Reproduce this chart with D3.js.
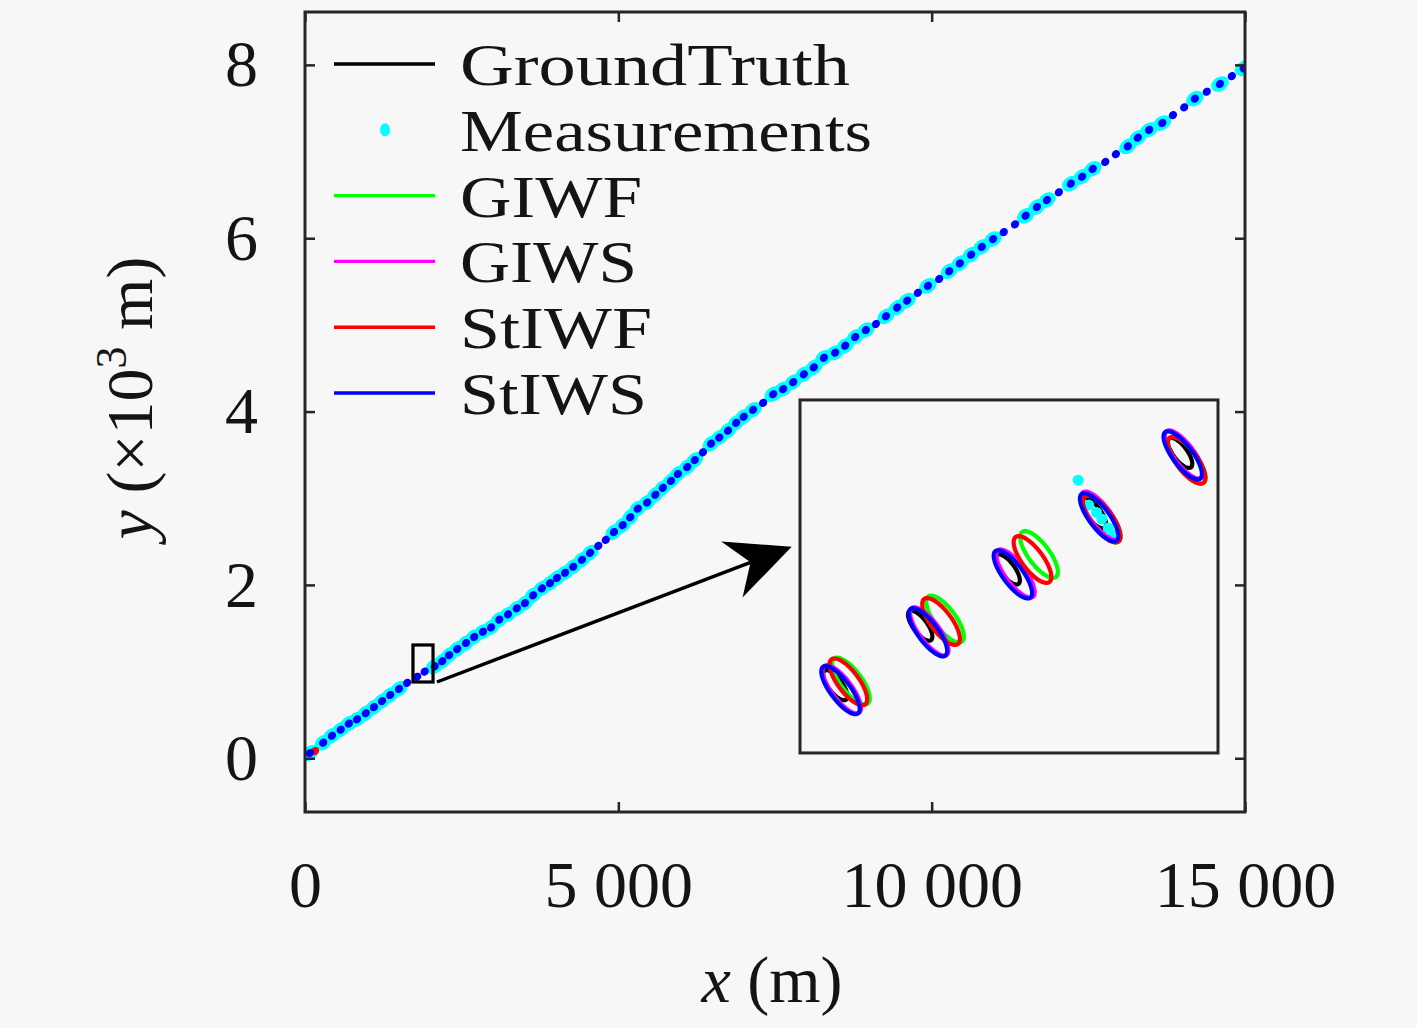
<!DOCTYPE html>
<html><head><meta charset="utf-8">
<script src="https://cdn.jsdelivr.net/npm/d3@7"></script>
<style>
html,body{margin:0;padding:0;background:#f7f7f7;}
svg{display:block;}
text{font-family:"Liberation Serif","Times New Roman",serif;}
</style></head><body>
<svg id="chart" width="1417" height="1028"></svg>
<script>
// ---------- data (metres) ----------
const trackX = [80,290,430,570,700,830,970,1100,1230,1360,
  1500,1630,1790,1910,2070,2190,2300,2430,2570,2700,
  2840,2970,3100,3240,3380,3510,3640,3780,3910,4020,
  4150,4280,4420,4550,4680,4800,4930,5070,5190,5310,
  5460,5590,5710,5840,5950,6100,6220,6350,6480,6610,
  6750,6880,7000,7150,7310,7470,7630,7790,7960,8120,
  8280,8460,8620,8780,8950,9110,9270,9450,9610,9780,
  9940,10120,10280,10450,10630,10800,10980,11150,11330,11500,
  11680,11840,12030,12220,12400,12570,12770,12940,13130,13290,
  13470,13680,13850,14030,14200,14390,14600,14790,14980];
const trackY = [60,180,260,330,400,450,520,590,660,730,
  800,870,940,1000,1060,1120,1190,1260,1330,1400,
  1460,1510,1600,1660,1730,1790,1880,1960,2020,2080,
  2140,2210,2290,2370,2450,2520,2610,2690,2780,2880,
  2950,3040,3120,3200,3280,3360,3440,3530,3630,3700,
  3780,3870,3940,4020,4100,4200,4260,4340,4430,4510,
  4620,4680,4760,4860,4940,5010,5100,5200,5280,5370,
  5450,5530,5620,5710,5810,5900,5990,6070,6160,6260,
  6360,6440,6530,6630,6710,6800,6880,6970,7060,7160,
  7250,7330,7420,7510,7610,7690,7780,7870,7960];
// 1 = measurement cloud visible at that scan
const measFlag = [1,1,1,1,1,1,1,1,1,1,
  1,0,0,0,1,1,1,1,1,1,
  1,1,1,1,1,1,1,1,1,1,
  1,1,1,1,0,0,1,1,1,1,
  1,1,1,1,1,1,1,0,1,1,
  1,1,1,1,0,1,1,1,1,1,
  1,1,1,1,1,0,1,1,1,0,
  1,0,1,1,1,1,1,0,0,1,
  1,1,0,1,1,1,0,0,1,1,
  1,1,0,0,1,0,1,0,1];
// StIWF initial estimate (visible at start)
const stiwfInitX = [160];
const stiwfInitY = [84];
// extent matrix in main view [xx, xy, yy] (m^2)
const mainExtent = [1232, 200, 644];

// ---------- inset (zoomed window) ----------
const zoomRectX = [1723, 2043];
const zoomRectY = [880, 1307];
const insetBoxX = [7899, 14569];
const insetBoxY = [61, 4134];
const arrowFrom = [2106, 880];
const arrowTo = [7766, 2441];
const insetGTX = [1750, 1815, 1882, 1948, 2014];
const insetGTY = [962, 1034, 1102, 1170, 1243];
const insetGIWFX = [1762, 1834, 1906, 1954, 2019];
const insetGIWFY = [967, 1042, 1120, 1163, 1234];
const insetGIWSX = [1755, 1822, 1888, 1953, 2017];
const insetGIWSY = [957, 1027, 1097, 1167, 1241];
const insetStIWFX = [1760, 1831, 1901, 1954, 2019];
const insetStIWFY = [966, 1039, 1114, 1163, 1234];
const insetStIWSX = [1754, 1821, 1886, 1952, 2016];
const insetStIWSY = [956, 1026, 1096, 1165, 1240];
const insetMeasX = [1936, 1944, 1950, 1954, 1959, 1963];
const insetMeasY = [1210, 1180, 1171, 1163, 1152, 1143];
const extGT = [87, -123, 333];
const extGIWF = [208, -302, 801];
const extGIWS = [216, -332, 850];
const extStIWF = [208, -302, 801];
const extStIWS = [216, -332, 850];

// ---------- ticks & legend ----------
const xTicks = [0, 5000, 10000, 15000];
const xTickLabels = ["0", "5 000", "10 000", "15 000"];
const yTicks = [0, 2000, 4000, 6000, 8000];
const yTickLabels = ["0", "2", "4", "6", "8"];
const legendLabels = ["GroundTruth", "Measurements", "GIWF", "GIWS", "StIWF", "StIWS"];
const legendColors = ["#000000", "#00ffff", "#00ff00", "#ff00ff", "#ff0000", "#0000ff"];
const legendKinds = ["line", "dot", "line", "line", "line", "line"];
const legendWidths = [390, 412, 182, 177, 192, 187];

// ---------- drawing ----------
const W = 1417, H = 1028;
const svg = d3.select("#chart");
svg.append("rect").attr("width", W).attr("height", H).attr("fill", "#f7f7f7");

const x = d3.scaleLinear().domain([0, 15000]).range([305, 1245]);
const y = d3.scaleLinear().domain([-620, 8610]).range([812, 12]);
const axisColor = "#262626", textColor = "#141414";

svg.append("defs").append("clipPath").attr("id", "plotclip")
  .append("rect").attr("x", x(0)).attr("y", y(8610)).attr("width", x(15000) - x(0)).attr("height", y(-620) - y(8610));

function ellipsePath(cx, cy, ext, sx, sy) {
  const a = ext[0], b = ext[1], c = ext[2];
  const tr = (a + c) / 2, df = Math.sqrt(((a - c) / 2) ** 2 + b * b);
  const l1 = tr + df, l2 = tr - df;
  let ex, ey;
  if (Math.abs(b) > 1e-9) { ex = b; ey = l1 - a; } else if (a >= c) { ex = 1; ey = 0; } else { ex = 0; ey = 1; }
  const n = Math.hypot(ex, ey); ex /= n; ey /= n;
  const r1 = Math.sqrt(l1), r2 = Math.sqrt(Math.max(l2, 0));
  const pts = d3.range(72).map(i => {
    const t = i / 72 * 2 * Math.PI;
    const dx = r1 * ex * Math.cos(t) - r2 * ey * Math.sin(t);
    const dy = r1 * ey * Math.cos(t) + r2 * ex * Math.sin(t);
    return [sx(cx + dx), sy(cy + dy)];
  });
  return d3.line().curve(d3.curveLinearClosed)(pts);
}

const plot = svg.append("g").attr("clip-path", "url(#plotclip)");
const steps = d3.range(trackX.length);

// measurements (clouds)
plot.append("g").selectAll("ellipse").data(steps.filter(i => measFlag[i]))
  .join("ellipse")
  .attr("cx", 0).attr("cy", 0).attr("rx", 9.5).attr("ry", 7)
  .attr("fill", "#00ffff")
  .attr("transform", i => {
    const i0 = Math.max(0, i - 1), i1 = Math.min(trackX.length - 1, i + 1);
    const ang = Math.atan2(y(trackY[i1]) - y(trackY[i0]), x(trackX[i1]) - x(trackX[i0])) * 180 / Math.PI;
    return `translate(${x(trackX[i])},${y(trackY[i])}) rotate(${ang})`;
  });

// StIWF initial estimate
plot.append("g").selectAll("path").data(stiwfInitX.map((v, i) => i)).join("path")
  .attr("d", i => ellipsePath(stiwfInitX[i], stiwfInitY[i], mainExtent, x, y))
  .attr("fill", "none").attr("stroke", "#ff0000").attr("stroke-width", 3.8);

// StIWS estimates
plot.append("g").selectAll("path").data(steps).join("path")
  .attr("d", i => ellipsePath(trackX[i], trackY[i], mainExtent, x, y))
  .attr("fill", "none").attr("stroke", "#0000ff").attr("stroke-width", 3.8);

// zoom rectangle
svg.append("rect")
  .attr("x", x(zoomRectX[0])).attr("y", y(zoomRectY[1]))
  .attr("width", x(zoomRectX[1]) - x(zoomRectX[0])).attr("height", y(zoomRectY[0]) - y(zoomRectY[1]))
  .attr("fill", "none").attr("stroke", "#000").attr("stroke-width", 3.2);

// arrow
{
  const p0 = [x(arrowFrom[0]), y(arrowFrom[1])], p1 = [x(arrowTo[0]), y(arrowTo[1])];
  const len = Math.hypot(p1[0] - p0[0], p1[1] - p0[1]);
  const d = [(p1[0] - p0[0]) / len, (p1[1] - p0[1]) / len];
  const p = [-d[1], d[0]];
  const L = 64, hw = 30, notch = 44;
  const notchPt = [p1[0] - d[0] * notch, p1[1] - d[1] * notch];
  svg.append("line").attr("x1", p0[0]).attr("y1", p0[1]).attr("x2", notchPt[0]).attr("y2", notchPt[1])
    .attr("stroke", "#000").attr("stroke-width", 3.4);
  const head = [p1,
    [p1[0] - d[0] * L + p[0] * hw, p1[1] - d[1] * L + p[1] * hw],
    notchPt,
    [p1[0] - d[0] * L - p[0] * hw, p1[1] - d[1] * L - p[1] * hw]];
  svg.append("path").attr("d", d3.line().curve(d3.curveLinearClosed)(head)).attr("fill", "#000");
}

// inset
const ix = d3.scaleLinear().domain(zoomRectX).range([x(insetBoxX[0]), x(insetBoxX[1])]);
const iy = d3.scaleLinear().domain(zoomRectY).range([y(insetBoxY[0]), y(insetBoxY[1])]);
svg.append("rect")
  .attr("x", x(insetBoxX[0])).attr("y", y(insetBoxY[1]))
  .attr("width", x(insetBoxX[1]) - x(insetBoxX[0])).attr("height", y(insetBoxY[0]) - y(insetBoxY[1]))
  .attr("fill", "#f7f7f7").attr("stroke", axisColor).attr("stroke-width", 3);
const inset = svg.append("g");
function drawInset(xs, ys, ext, color) {
  inset.append("g").selectAll("path").data(xs.map((v, i) => i)).join("path")
    .attr("d", i => ellipsePath(xs[i], ys[i], ext, ix, iy))
    .attr("fill", "none").attr("stroke", color).attr("stroke-width", 4.2);
}
drawInset(insetGTX, insetGTY, extGT, "#000000");
inset.append("g").selectAll("circle").data(insetMeasX.map((v, i) => i)).join("circle")
  .attr("cx", i => ix(insetMeasX[i])).attr("cy", i => iy(insetMeasY[i])).attr("r", 5.5)
  .attr("fill", "#00ffff");
drawInset(insetGIWFX, insetGIWFY, extGIWF, "#00ff00");
drawInset(insetGIWSX, insetGIWSY, extGIWS, "#ff00ff");
drawInset(insetStIWFX, insetStIWFY, extStIWF, "#ff0000");
drawInset(insetStIWSX, insetStIWSY, extStIWS, "#0000ff");

// axes
function styleAxis(g) {
  g.attr("color", axisColor).attr("font-family", '"Liberation Serif","Times New Roman",serif').attr("font-size", 66);
  g.select(".domain").remove();
  g.selectAll(".tick line").attr("stroke-width", 2.5);
  g.selectAll("text").attr("fill", textColor);
}
svg.append("g").attr("transform", `translate(0,${y(-620)})`)
  .call(d3.axisBottom(x).tickValues(xTicks).tickFormat((d, i) => xTickLabels[i]).tickSize(-10).tickPadding(48))
  .call(styleAxis);
svg.append("g").attr("transform", `translate(0,${y(8610)})`)
  .call(d3.axisTop(x).tickValues(xTicks).tickFormat("").tickSize(-10))
  .call(styleAxis);
svg.append("g").attr("transform", `translate(${x(0)},0)`)
  .call(d3.axisLeft(y).tickValues(yTicks).tickFormat((d, i) => yTickLabels[i]).tickSize(-10).tickPadding(47))
  .call(styleAxis);
svg.append("g").attr("transform", `translate(${x(15000)},0)`)
  .call(d3.axisRight(y).tickValues(yTicks).tickFormat("").tickSize(-10))
  .call(styleAxis);

// box
svg.append("rect").attr("x", x(0)).attr("y", y(8610))
  .attr("width", x(15000) - x(0)).attr("height", y(-620) - y(8610))
  .attr("fill", "none").attr("stroke", axisColor).attr("stroke-width", 3);

// axis labels
const xl = svg.append("text").attr("x", 772).attr("y", 1002).attr("text-anchor", "middle")
  .attr("font-size", 66).attr("fill", textColor);
xl.append("tspan").attr("font-style", "italic").text("x");
xl.append("tspan").text(" (m)");

const yl = svg.append("text").attr("transform", "translate(152,398) rotate(-90)")
  .attr("text-anchor", "middle").attr("font-size", 66).attr("fill", textColor);
yl.append("tspan").attr("font-style", "italic").text("y");
yl.append("tspan").text(" (×10");
yl.append("tspan").attr("font-size", 44).attr("dy", -26).text("3");
yl.append("tspan").attr("dy", 26).text(" m)");

// legend
const legend = svg.append("g");
legendLabels.forEach((lab, i) => {
  const ry = 64 + i * 65.8;
  if (legendKinds[i] === "line") {
    legend.append("line").attr("x1", 334).attr("x2", 435).attr("y1", ry).attr("y2", ry)
      .attr("stroke", legendColors[i]).attr("stroke-width", 3.4);
  } else {
    legend.append("ellipse").attr("cx", 385).attr("cy", ry).attr("rx", 5).attr("ry", 6.5)
      .attr("fill", legendColors[i]);
  }
  legend.append("text").attr("x", 460).attr("y", ry + 21).attr("font-size", 59)
    .attr("textLength", legendWidths[i]).attr("lengthAdjust", "spacingAndGlyphs")
    .attr("fill", textColor).text(lab);
});
</script>
</body></html>
